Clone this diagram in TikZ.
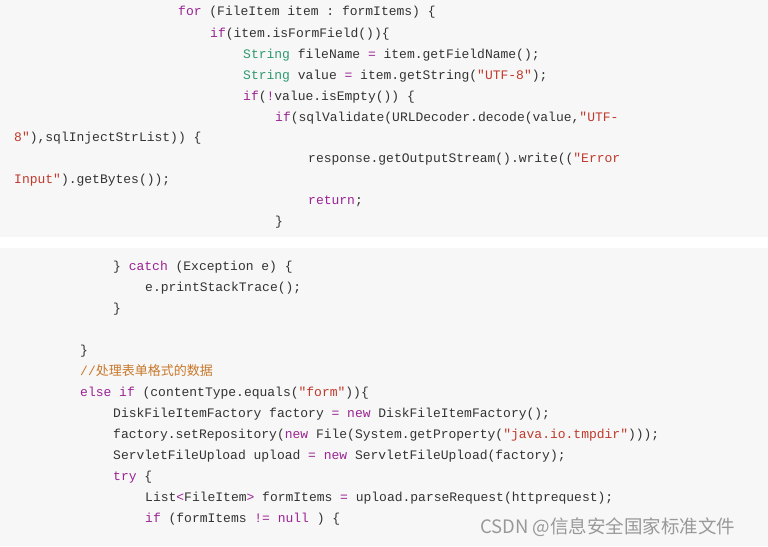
\documentclass[tikz,border=0pt]{standalone}
\usepackage{fontspec}
\setmonofont{Liberation Mono}
\newfontfamily\cjk{Noto Sans CJK SC}
\definecolor{txt}{HTML}{333333}
\definecolor{kw}{HTML}{9B2393}
\definecolor{ty}{HTML}{2E9A6E}
\definecolor{st}{HTML}{C0392B}
\definecolor{cm}{HTML}{C8782A}
\definecolor{bgc}{HTML}{F7F7F7}
\newcommand{\K}[1]{\textcolor{kw}{#1}}
\newcommand{\T}[1]{\textcolor{ty}{#1}}
\newcommand{\Q}[1]{\textcolor{st}{#1}}
\begin{document}
\begin{tikzpicture}[x=1pt,y=-1pt,
  code/.style={anchor=base west,inner sep=0pt,font=\ttfamily\fontsize{13}{13}\selectfont,text=txt}]
\useasboundingbox (0,0) rectangle (768,546);
\fill[bgc] (0,0) rectangle (768,237);
\fill[bgc] (0,248) rectangle (768,546);
\node[code] (a1) at (178,16) {\K{for} (FileItem item : formItems) \{};
\node[code] (a2) at (210,37) {\K{if}(item.isFormField())\{};
\node[code] (a3) at (243,58) {\T{String} fileName \K{=} item.getFieldName();};
\node[code] (a4) at (243,79) {\T{String} value \K{=} item.getString(\Q{"UTF-8"});};
\node[code] (a5) at (243,100) {\K{if}(\K{!}value.isEmpty()) \{};
\node[code] (a6) at (275,121) {\K{if}(sqlValidate(URLDecoder.decode(value,\Q{"UTF-}};
\node[code] (a7) at (14,141) {\Q{8"}),sqlInjectStrList)) \{};
\node[code] (a8) at (308,162) {response.getOutputStream().write((\Q{"Error}};
\node[code] (a9) at (14,183) {\Q{Input"}).getBytes());};
\node[code] (a10) at (308,204) {\K{return};};
\node[code] (a11) at (275,225) {\}};
\node[code] (b1) at (113,270) {\} \K{catch} (Exception e) \{};
\node[code] (b2) at (145,291) {e.printStackTrace();};
\node[code] (b3) at (113,312) {\}};
\node[code] (b4) at (80,354) {\}};
\node[code] (b5) at (80,375) {\textcolor{cm}{//{\cjk 处理表单格式的数据}}};
\node[code] (b6) at (80,396) {\K{else if} (contentType.equals(\Q{"form"}))\{};
\node[code] (b7) at (113,417) {DiskFileItemFactory factory \K{=} \K{new} DiskFileItemFactory();};
\node[code] (b8) at (113,438) {factory.setRepository(\K{new} File(System.getProperty(\Q{"java.io.tmpdir"})));};
\node[code] (b9) at (113,459) {ServletFileUpload upload \K{=} \K{new} ServletFileUpload(factory);};
\node[code] (b10) at (113,480) {\K{try} \{};
\node[code] (b11) at (145,501) {List\K{<}FileItem\K{>} formItems \K{=} upload.parseRequest(httprequest);};
\node[code] (b12) at (145,522) {\K{if} (formItems \K{!=} \K{null} ) \{};
\node[anchor=base west,inner sep=0pt,text=gray!80,font=\cjk\fontsize{18.5}{18.5}\selectfont] (wm) at (480,533) {CSDN @信息安全国家标准文件};
\end{tikzpicture}
\end{document}
